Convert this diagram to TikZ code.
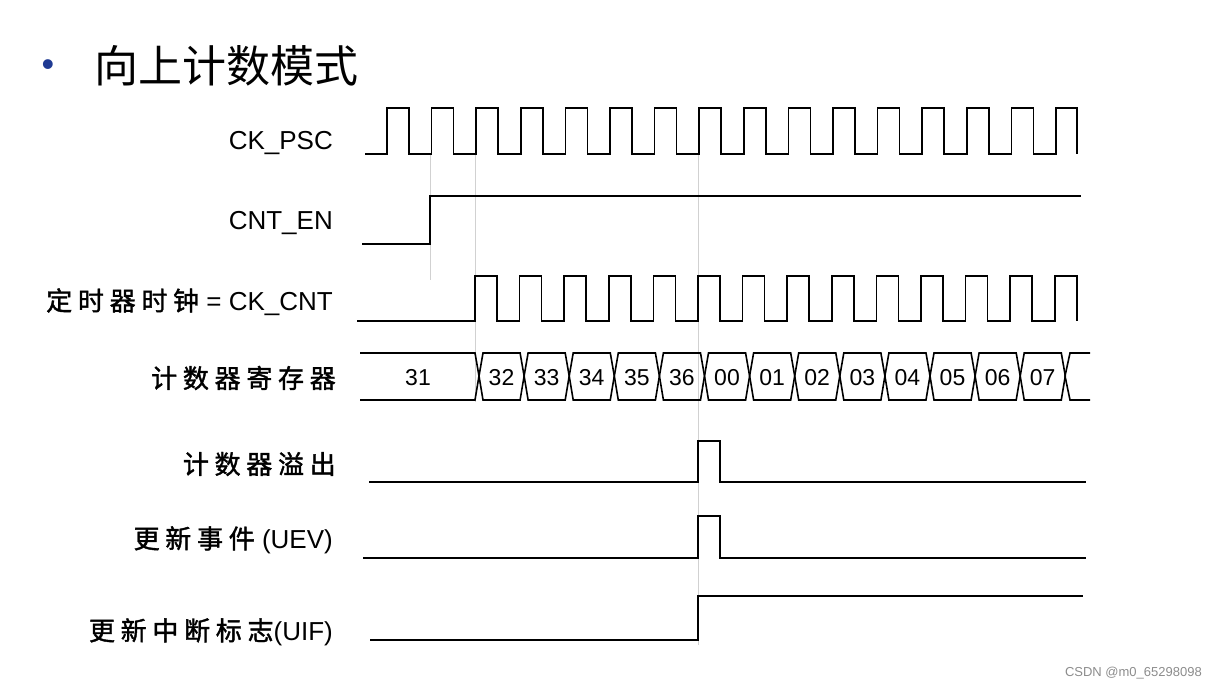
\documentclass[tikz,border=0pt]{standalone}
\usepackage{fontspec}
\setmainfont{Liberation Sans}
\newfontfamily\cjk{Noto Sans CJK SC}[LetterSpace=22,FakeBold=1.5]
\newfontfamily\cjkt{Noto Sans CJK SC}
\definecolor{bulletblue}{HTML}{1F3A93}
\begin{document}
\begin{tikzpicture}[x=1pt,y=-1pt,
  sig/.style={line width=1.6pt,line join=miter},
  guide/.style={line width=0.8pt,black!18},
  lab/.style={anchor=east,inner sep=0pt,font=\fontsize{26}{26}\selectfont},
  val/.style={inner sep=0pt,font=\fontsize{23}{23}\selectfont}]
\useasboundingbox (0,0) rectangle (1216,692);
% title
\node[text=bulletblue,font=\fontsize{36}{36}\selectfont] (bul) at (48,68) {•};
\node[anchor=west,inner sep=0pt,font=\cjkt\fontsize{44}{44}\selectfont] (title) at (94,66) {向上计数模式};
% guides
\draw[guide] (430,154) -- (430,280);
\draw[guide] (475,154) -- (475,402);
\draw[guide] (698,154) -- (698,645);
% labels
\node[lab] (l1) at (333,143) {CK\_PSC};
\node[lab] (l2) at (333,223) {CNT\_EN};
\node[lab] (l3) at (333,302) {{\cjk 定时器时钟} = CK\_CNT};
\node[lab] (l4) at (336,378) {\cjk 计数器寄存器};
\node[lab] (l5) at (336,464) {\cjk 计数器溢出};
\node[lab] (l6) at (333,540) {{\cjk 更新事件} (UEV)};
\node[lab] (l7) at (333,632) {{\cjk 更新中断标志}(UIF)};
% CK_PSC
\draw[sig] (365,154) -- (387,154)
  \foreach \i in {0,...,14}{ -- ({387+44.6*\i},154) -- ({387+44.6*\i},108) -- ({409+44.6*\i},108) -- ({409+44.6*\i},154) }
  -- (1056,154) -- (1056,108) -- (1077,108) -- (1077,154);
% CNT_EN
\draw[sig] (362,244) -- (430,244) -- (430,196) -- (1081,196);
% CK_CNT
\draw[sig] (357,321)
  \foreach \i in {0,...,12}{ -- ({475+44.6*\i},321) -- ({475+44.6*\i},276) -- ({497+44.6*\i},276) -- ({497+44.6*\i},321) }
  -- (1055,321) -- (1055,276) -- (1077,276) -- (1077,321);
% counter register
\draw[sig] (360,353) -- (475,353) -- (479,376) -- (475,400) -- (360,400);
\node[val] (v31) at (418,378) {31};
\foreach \v [count=\k from 0] in {32,33,34,35,36,00,01,02,03,04,05,06,07}{
  \pgfmathsetmacro{\b}{479+45.1*\k}
  \draw[sig] (\b,376) -- (\b+4,353) -- (\b+41.1,353) -- (\b+45.1,376) -- (\b+41.1,400) -- (\b+4,400) -- cycle;
  \node[val] (c\k) at (\b+22.5,378) {\v};
}
\draw[sig] (1090,353) -- (1070,353) -- (1065,376) -- (1070,400) -- (1090,400);
% overflow
\draw[sig] (369,482) -- (698,482) -- (698,441) -- (720,441) -- (720,482) -- (1086,482);
% UEV
\draw[sig] (363,558) -- (698,558) -- (698,516) -- (720,516) -- (720,558) -- (1086,558);
% UIF
\draw[sig] (370,640) -- (698,640) -- (698,596) -- (1083,596);
% watermark
\node[anchor=east,inner sep=0pt,text=black!45,font=\fontsize{13}{13}\selectfont] (wm) at (1202,673) {CSDN @m0\_65298098};
\end{tikzpicture}
\end{document}
